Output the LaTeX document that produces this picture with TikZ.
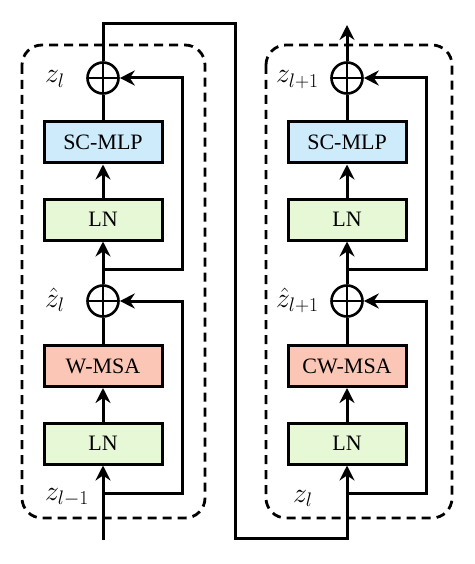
\documentclass[tikz,border=0pt]{standalone}
\usepackage{fix-cm}
\usepackage{fontspec}
\setmainfont{Liberation Serif}
\usetikzlibrary{arrows.meta}
\definecolor{mlpblue}{RGB}{205,235,250}
\definecolor{lngreen}{RGB}{230,248,214}
\definecolor{msared}{RGB}{251,198,181}
\tikzset{
  block/.style={draw, line width=3pt, minimum width=118pt, minimum height=41pt, inner sep=0pt, font=\fontsize{22}{26}\selectfont},
  adder/.style={draw, circle, line width=2.6pt, minimum size=31pt, inner sep=0pt,
    path picture={\draw[line width=2.6pt] (path picture bounding box.north)--(path picture bounding box.south)
      (path picture bounding box.west)--(path picture bounding box.east);}},
  wire/.style={line width=3pt},
  flow/.style={wire, -{Stealth[length=15pt,width=15pt,inset=5pt]}},
  lbl/.style={font=\fontsize{28}{32}\selectfont, inner sep=0pt, anchor=base west},
  group/.style={line width=2.8pt, dash pattern=on 9pt off 6pt, rounded corners=20pt},
}
\begin{document}
\begin{tikzpicture}[x=1pt,y=-1pt]
    \useasboundingbox (0,0) rectangle (474,564);
    % dashed groups
    \draw[group] (22,45) rectangle (205,518);
    \draw[group] (266,45) rectangle (452,518);
    % left block
    \node[adder] (addtl) at (103,78) {};
    \node[block, fill=mlpblue] (mlpl) at (103,142.5) {SC-MLP};
    \node[block, fill=lngreen] (lntl) at (103,219.5) {LN};
    \node[adder] (addbl) at (103,301) {};
    \node[block, fill=msared] (msal) at (103,366) {W-MSA};
    \node[block, fill=lngreen] (lnbl) at (103,443.5) {LN};
    % right block
    \node[adder] (addtr) at (347,78) {};
    \node[block, fill=mlpblue] (mlpr) at (347,142.5) {SC-MLP};
    \node[block, fill=lngreen] (lntr) at (347,219.5) {LN};
    \node[adder] (addbr) at (347,301) {};
    \node[block, fill=msared] (msar) at (347,366) {CW-MSA};
    \node[block, fill=lngreen] (lnbr) at (347,443.5) {LN};
    % junctions
    \coordinate (inl) at (103,540);
    \coordinate (brbl) at (103,493);
    \coordinate (skbl) at (182,493);
    \coordinate (brtl) at (103,269);
    \coordinate (sktl) at (182,269);
    \coordinate (topl) at (235,24);
    \coordinate (inr) at (347,538);
    \coordinate (brbr) at (347,493);
    \coordinate (skbr) at (426,493);
    \coordinate (brtr) at (347,269);
    \coordinate (sktr) at (426,269);
    \coordinate (outr) at (347,25);
    % left connectors
    \draw[flow] (inl) -- (lnbl);
    \draw[flow] (lnbl) -- (msal);
    \draw[wire] (msal) -- (addbl);
    \draw[flow] (addbl) -- (lntl);
    \draw[flow] (lntl) -- (mlpl);
    \draw[wire] (mlpl) -- (addtl);
    \draw[flow] (brbl) -- (skbl) |- (addbl);
    \draw[flow] (brtl) -- (sktl) |- (addtl);
    % link between blocks
    \draw[flow] (addtl) |- (topl) |- (inr) -- (lnbr);
    % right connectors
    \draw[flow] (lnbr) -- (msar);
    \draw[wire] (msar) -- (addbr);
    \draw[flow] (addbr) -- (lntr);
    \draw[flow] (lntr) -- (mlpr);
    \draw[wire] (mlpr) -- (addtr);
    \draw[flow] (addtr) -- (outr);
    \draw[flow] (brbr) -- (skbr) |- (addbr);
    \draw[flow] (brtr) -- (sktr) |- (addtr);
    % labels
    \node[lbl] (zl) at (45,83) {$z_l$};
    \node[lbl] (zhl) at (45,307) {$\hat{z}_l$};
    \node[lbl] (zlm) at (45,500) {$z_{l-1}$};
    \node[lbl] (zlp) at (276,83) {$z_{l+1}$};
    \node[lbl] (zhlp) at (276,307) {$\hat{z}_{l+1}$};
    \node[lbl] (zlr) at (293,502) {$z_l$};
\end{tikzpicture}
\end{document}
